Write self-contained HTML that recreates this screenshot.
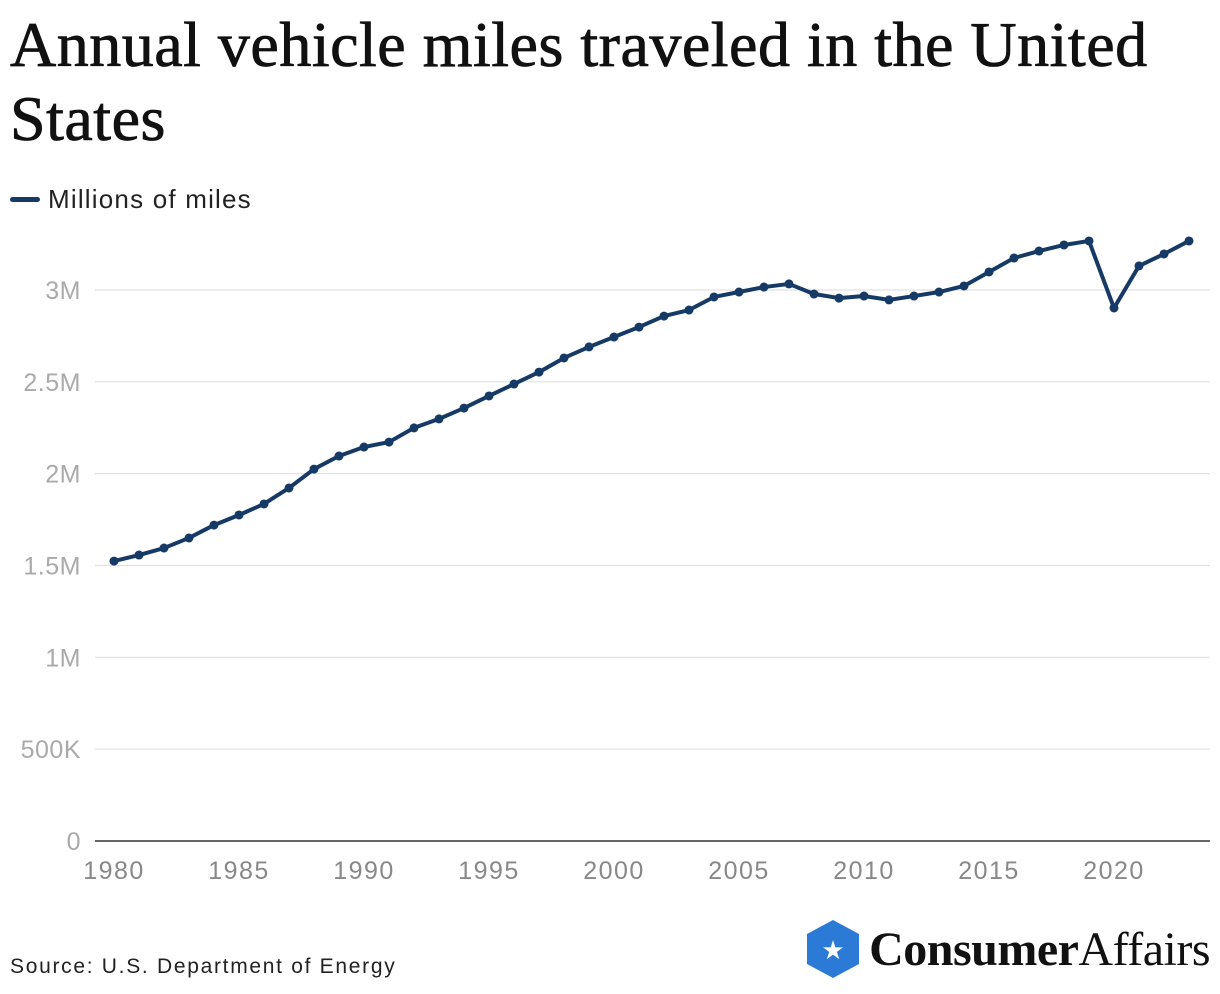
<!DOCTYPE html>
<html><head><meta charset="utf-8"><style>
body{margin:0;background:#fff;width:1220px;height:994px;overflow:hidden;font-family:"Liberation Sans",sans-serif;}
.title{position:absolute;left:10px;top:8px;width:1190px;font-family:"Liberation Serif",serif;font-size:64px;line-height:74px;color:#111;letter-spacing:0.5px;-webkit-text-stroke:0.8px #111;}
.legend{position:absolute;left:10px;top:184px;font-size:26px;letter-spacing:1.2px;color:#222;display:flex;align-items:center;}
.legend span.sw{display:inline-block;width:30px;height:5px;background:#163a66;border-radius:3px;margin-right:8px;}
.source{position:absolute;left:10px;top:955px;font-size:21px;letter-spacing:1.7px;color:#222;}
.logo{position:absolute;right:10px;top:918px;display:flex;align-items:center;}
svg text{font-family:"Liberation Sans",sans-serif;}
</style></head><body>
<div class="title">Annual vehicle miles traveled in the United States</div>
<div class="legend"><span class="sw"></span>Millions of miles</div>
<svg id="chart" width="1220" height="994" style="position:absolute;left:0;top:0"></svg>
<div class="source">Source: U.S. Department of Energy</div>
<div class="logo">
<svg width="56" height="62" viewBox="0 0 56 62"><polygon points="28,2 54,16 54,46 28,60 2,46 2,16" fill="#2b7bd6"/><text x="28" y="41" font-size="26" fill="#fff" text-anchor="middle">★</text></svg>
<span style="font-family:'Liberation Serif',serif;font-size:48px;font-weight:bold;color:#111;margin-left:8px;letter-spacing:-0.5px">Consumer</span><span style="font-family:'Liberation Serif',serif;font-size:48px;color:#111;letter-spacing:-0.5px">Affairs</span>
</div>
<script>
const years=[];for(let y=1980;y<=2023;y++)years.push(y);
const values=[1.524,1.557,1.595,1.650,1.720,1.775,1.835,1.922,2.025,2.096,2.145,2.172,2.249,2.298,2.357,2.423,2.488,2.553,2.630,2.690,2.744,2.798,2.858,2.891,2.962,2.989,3.016,3.033,2.978,2.956,2.967,2.946,2.967,2.989,3.022,3.098,3.174,3.212,3.245,3.267,2.902,3.131,3.196,3.267];
const yTicks=[0,0.5,1,1.5,2,2.5,3];
const yTickLabels=["0","500K","1M","1.5M","2M","2.5M","3M"];
const xTicks=[1980,1985,1990,1995,2000,2005,2010,2015,2020];
const NS="http://www.w3.org/2000/svg";
const svg=document.getElementById('chart');
const X=v=>114+(v-1980)*25;
const Y=v=>841-v*183.67;
function mk(t,a){const e=document.createElementNS(NS,t);for(const k in a)e.setAttribute(k,a[k]);svg.appendChild(e);return e;}
yTicks.forEach((t,i)=>{
 const l=mk('line',{x1:95,x2:1210,y1:Y(t),y2:Y(t),stroke:t===0?'#333':'#e2e2e2','stroke-width':t===0?1.5:1.2});
 
 
 const tx=mk('text',{x:81,y:Y(t)+9,'text-anchor':'end','font-size':25,'letter-spacing':0.5,fill:'#aaa'});
 tx.textContent=yTickLabels[i];
 
 
});
xTicks.forEach(t=>{
 const tx=mk('text',{x:X(t),y:879,'text-anchor':'middle','font-size':25,'letter-spacing':1.5,fill:'#888'});
 tx.textContent=t;
 
 
});
const p=mk('path',{d:values.map((v,i)=>(i?'L':'M')+X(years[i])+','+Y(v)).join(''),fill:'none',stroke:'#163a66','stroke-width':4,'stroke-linejoin':'round'});


values.forEach((v,i)=>{
 const c=mk('circle',{cx:X(years[i]),cy:Y(v),r:4.5,fill:'#163a66'});
 
 
});
</script>
</body></html>
